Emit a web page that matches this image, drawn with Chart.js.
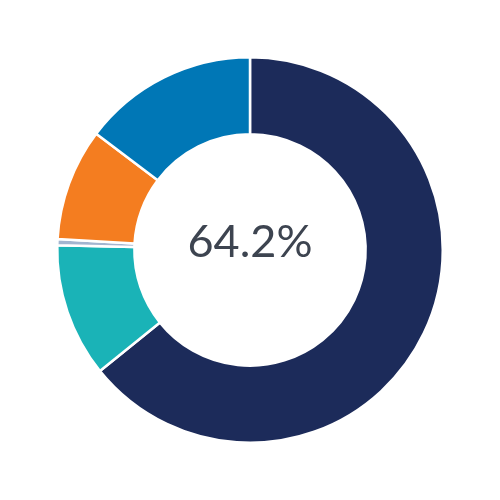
<!DOCTYPE html>
<html>
<head>
<meta charset="utf-8">
<script src="https://cdn.jsdelivr.net/npm/chart.js@4/dist/chart.umd.min.js"></script>
<style>
  html, body { margin: 0; padding: 0; background: #fff; }
  #wrap { position: relative; width: 500px; height: 500px; }
  #center { position: absolute; left: 0; top: -10px; width: 500px; height: 500px;
    display: flex; align-items: center; justify-content: center;
    font-family: Lato, "Open Sans", sans-serif; font-size: 45px; color: #3d4450;
    pointer-events: none; }
</style>
</head>
<body>
<div id="wrap">
  <canvas id="chart" width="500" height="500"></canvas>
  <div id="center">64.2%</div>
</div>
<script>
// segment values, clockwise from the top
const labels = ['A', 'B', 'C', 'D', 'E'];
const values = [64.2, 11.2, 0.5, 9.4, 14.7];
const colors = ['#1c2b5a', '#1ab3b7', '#a3b5d0', '#f47d20', '#0077b6'];

var ctx = document.getElementById('chart').getContext('2d');
new Chart(ctx, {
  type: 'doughnut',
  data: {
    labels: labels,
    datasets: [{
      data: values,
      backgroundColor: colors,
      borderColor: '#ffffff',
      borderWidth: 2.5
    }]
  },
  options: {
    responsive: false,
    animation: false,
    cutout: '60%',
    layout: { padding: 56 },
    plugins: {
      legend: { display: false },
      tooltip: { enabled: false }
    }
  }
});
</script>
</body>
</html>
